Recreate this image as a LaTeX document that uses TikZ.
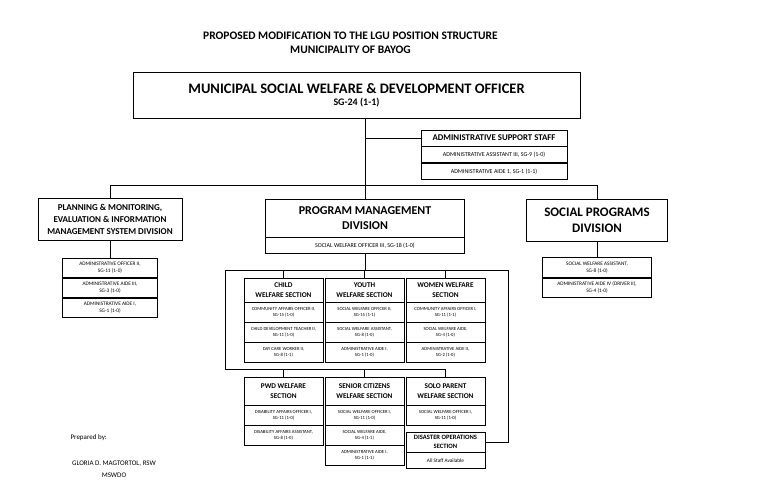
\documentclass[tikz,border=0pt]{standalone}
\usepackage{fontspec}
\setmainfont{Carlito}
\usetikzlibrary{positioning}

\tikzset{
  headbox/.style={draw, line width=0.8pt, align=center, inner sep=0pt},
  rowbox/.style={draw, line width=0.7pt, align=center, inner sep=0pt, font=\fontsize{4.7}{6.5}\selectfont},
  sechead/.style={headbox, minimum width=79pt, font=\bfseries\fontsize{7.3}{10}\selectfont},
  secrow/.style={rowbox, minimum width=79pt, minimum height=19.3pt},
  link/.style={line width=0.8pt},
}

\begin{document}
\begin{tikzpicture}[x=1pt, y=-1pt]
    \useasboundingbox (0,0) rectangle (768,503);

    % Title
    \node[align=center, font=\bfseries\fontsize{11.5}{14}\selectfont] (title) at (350.5,43)
        {PROPOSED MODIFICATION TO THE LGU POSITION STRUCTURE\\MUNICIPALITY OF BAYOG};

    % Head of office
    \node[headbox, minimum width=447pt, minimum height=46pt, font=\bfseries] (mswdo) at (356.5,95)
        {\fontsize{14.5}{15}\selectfont MUNICIPAL SOCIAL WELFARE \& DEVELOPMENT OFFICER\\
         \fontsize{10}{11}\selectfont SG-24 (1-1)};

    % Administrative support staff
    \node[headbox, minimum width=146pt, minimum height=16pt, font=\bfseries\fontsize{8.8}{10}\selectfont] (support) at (494,138)
        {ADMINISTRATIVE SUPPORT STAFF};
    \node[rowbox, font=\fontsize{6}{7}\selectfont, minimum width=146pt, minimum height=16pt, below=0pt of support] (support1)
        {ADMINISTRATIVE ASSISTANT III, SG-9 (1-0)};
    \node[rowbox, font=\fontsize{6}{7}\selectfont, minimum width=146pt, minimum height=16pt, below=0pt of support1] (support2)
        {ADMINISTRATIVE AIDE 1, SG-1 (1-1)};

    % Divisions
    \node[headbox, minimum width=144pt, minimum height=42pt, font=\bfseries\fontsize{9}{12}\selectfont] (plan) at (110,219)
        {PLANNING \& MONITORING,\\EVALUATION \& INFORMATION\\MANAGEMENT SYSTEM DIVISION};
    \node[rowbox, font=\fontsize{5.3}{7}\selectfont, minimum width=95pt, minimum height=19.3pt] (plan1) at (110,267.5)
        {ADMINISTRATIVE OFFICER II,\\SG-11 (1-0)};
    \node[rowbox, font=\fontsize{5.3}{7}\selectfont, minimum width=95pt, minimum height=19.3pt, below=0pt of plan1] (plan2)
        {ADMINISTRATIVE AIDE III,\\SG-3 (1-0)};
    \node[rowbox, font=\fontsize{5.3}{7}\selectfont, minimum width=95pt, minimum height=19.3pt, below=0pt of plan2] (plan3)
        {ADMINISTRATIVE AIDE I,\\SG-1 (1-0)};

    \node[headbox, minimum width=199pt, minimum height=38pt, font=\bfseries\fontsize{12}{15}\selectfont] (program) at (365,218)
        {PROGRAM MANAGEMENT\\DIVISION};
    \node[rowbox, font=\fontsize{6}{7}\selectfont, minimum width=199pt, minimum height=16pt, below=0pt of program] (program1)
        {SOCIAL WELFARE OFFICER III, SG-18 (1-0)};

    \node[headbox, minimum width=141pt, minimum height=42pt, font=\bfseries\fontsize{13}{16}\selectfont] (socprog) at (597,220)
        {SOCIAL PROGRAMS\\DIVISION};
    \node[rowbox, font=\fontsize{5.3}{7}\selectfont, minimum width=109pt, minimum height=19.5pt] (socprog1) at (597,267.5)
        {SOCIAL WELFARE ASSISTANT,\\SG-8 (1-0)};
    \node[rowbox, font=\fontsize{5.3}{7}\selectfont, minimum width=109pt, minimum height=19.5pt, below=0pt of socprog1] (socprog2)
        {ADMINISTRATIVE AIDE IV (DRIVER II),\\SG-4 (1-0)};

    % Sections, first row
    \node[sechead, minimum height=24pt] (child) at (283.5,290) {CHILD\\WELFARE SECTION};
    \node[secrow, below=0pt of child] (child1) {COMMUNITY AFFAIRS OFFICER II,\\SG-15 (1-0)};
    \node[secrow, below=0pt of child1] (child2) {CHILD DEVELOPMENT TEACHER II,\\SG-11 (1-0)};
    \node[secrow, below=0pt of child2] (child3) {DAY CARE WORKER II,\\SG-8 (1-1)};

    \node[sechead, minimum height=24pt] (youth) at (364.5,290) {YOUTH\\WELFARE SECTION};
    \node[secrow, below=0pt of youth] (youth1) {SOCIAL WELFARE OFFICER II,\\SG-15 (1-1)};
    \node[secrow, below=0pt of youth1] (youth2) {SOCIAL WELFARE ASSISTANT,\\SG-8 (1-0)};
    \node[secrow, below=0pt of youth2] (youth3) {ADMINISTRATIVE AIDE I,\\SG-1 (1-0)};

    \node[sechead, minimum height=24pt] (women) at (445.5,290) {WOMEN WELFARE\\SECTION};
    \node[secrow, below=0pt of women] (women1) {COMMUNITY AFFAIRS OFFICER I,\\SG-11 (1-1)};
    \node[secrow, below=0pt of women1] (women2) {SOCIAL WELFARE AIDE,\\SG-4 (1-0)};
    \node[secrow, below=0pt of women2] (women3) {ADMINISTRATIVE AIDE II,\\SG-2 (1-0)};

    % Sections, second row
    \node[sechead, minimum height=28pt] (pwd) at (283.5,391) {PWD WELFARE\\SECTION};
    \node[secrow, below=0pt of pwd] (pwd1) {DISABILITY AFFAIRS OFFICER I,\\SG-11 (1-0)};
    \node[secrow, below=0pt of pwd1] (pwd2) {DISABILITY AFFAIRS ASSISTANT,\\SG-8 (1-0)};

    \node[sechead, minimum height=28pt] (senior) at (364.5,391) {SENIOR CITIZENS\\WELFARE SECTION};
    \node[secrow, below=0pt of senior] (senior1) {SOCIAL WELFARE OFFICER I,\\SG-11 (1-0)};
    \node[secrow, below=0pt of senior1] (senior2) {SOCIAL WELFARE AIDE,\\SG-4 (1-1)};
    \node[secrow, below=0pt of senior2] (senior3) {ADMINISTRATIVE AIDE I,\\SG-1 (1-1)};

    \node[sechead, minimum height=28pt] (solo) at (445.5,391) {SOLO PARENT\\WELFARE SECTION};
    \node[secrow, below=0pt of solo] (solo1) {SOCIAL WELFARE OFFICER I,\\SG-11 (1-0)};

    \node[sechead, font=\bfseries\fontsize{6.6}{9}\selectfont, minimum height=20pt] (disaster) at (445.5,442) {DISASTER OPERATIONS\\SECTION};
    \node[secrow, font=\fontsize{5.3}{7}\selectfont, minimum height=16pt, below=0pt of disaster] (disaster1) {All Staff Available};

    % Connectors
    \coordinate (divbus) at (0,185);
    \coordinate (secleft) at (225,270);
    \coordinate (secright) at (508,270);
    \coordinate (lowbus) at (0,369);

    \draw[link] (mswdo.south -| program.north) -- (program.north);
    \draw[link] (support.west) -- (support.west -| program.north);
    \draw[link] (plan.north) -- (plan.north |- divbus) -- (socprog.north |- divbus) -- (socprog.north);
    \draw[link] (plan.south) -- (plan1.north);
    \draw[link] (socprog.south) -- (socprog1.north);

    \draw[link] (program1.south) -- (program1.south |- secleft);
    \draw[link] (secleft) -- (secright);
    \foreach \s in {child,youth,women}
        \draw[link] (\s.north) -- (\s.north |- secleft);
    \draw[link] (secleft) -- (secleft |- lowbus) -- (solo.north |- lowbus) -- (solo.north);
    \foreach \s in {pwd,senior}
        \draw[link] (\s.north) -- (\s.north |- lowbus);
    \draw[link] (secright) -- (secright |- disaster.east) -- (disaster.east);

    % Signature
    \node[anchor=west, font=\fontsize{7}{8}\selectfont] (prepared) at (67,438) {Prepared by:};
    \node[align=center, font=\fontsize{7}{12}\selectfont] (signer) at (114,469)
        {GLORIA D. MAGTORTOL, RSW\\MSWDO};
\end{tikzpicture}
\end{document}
